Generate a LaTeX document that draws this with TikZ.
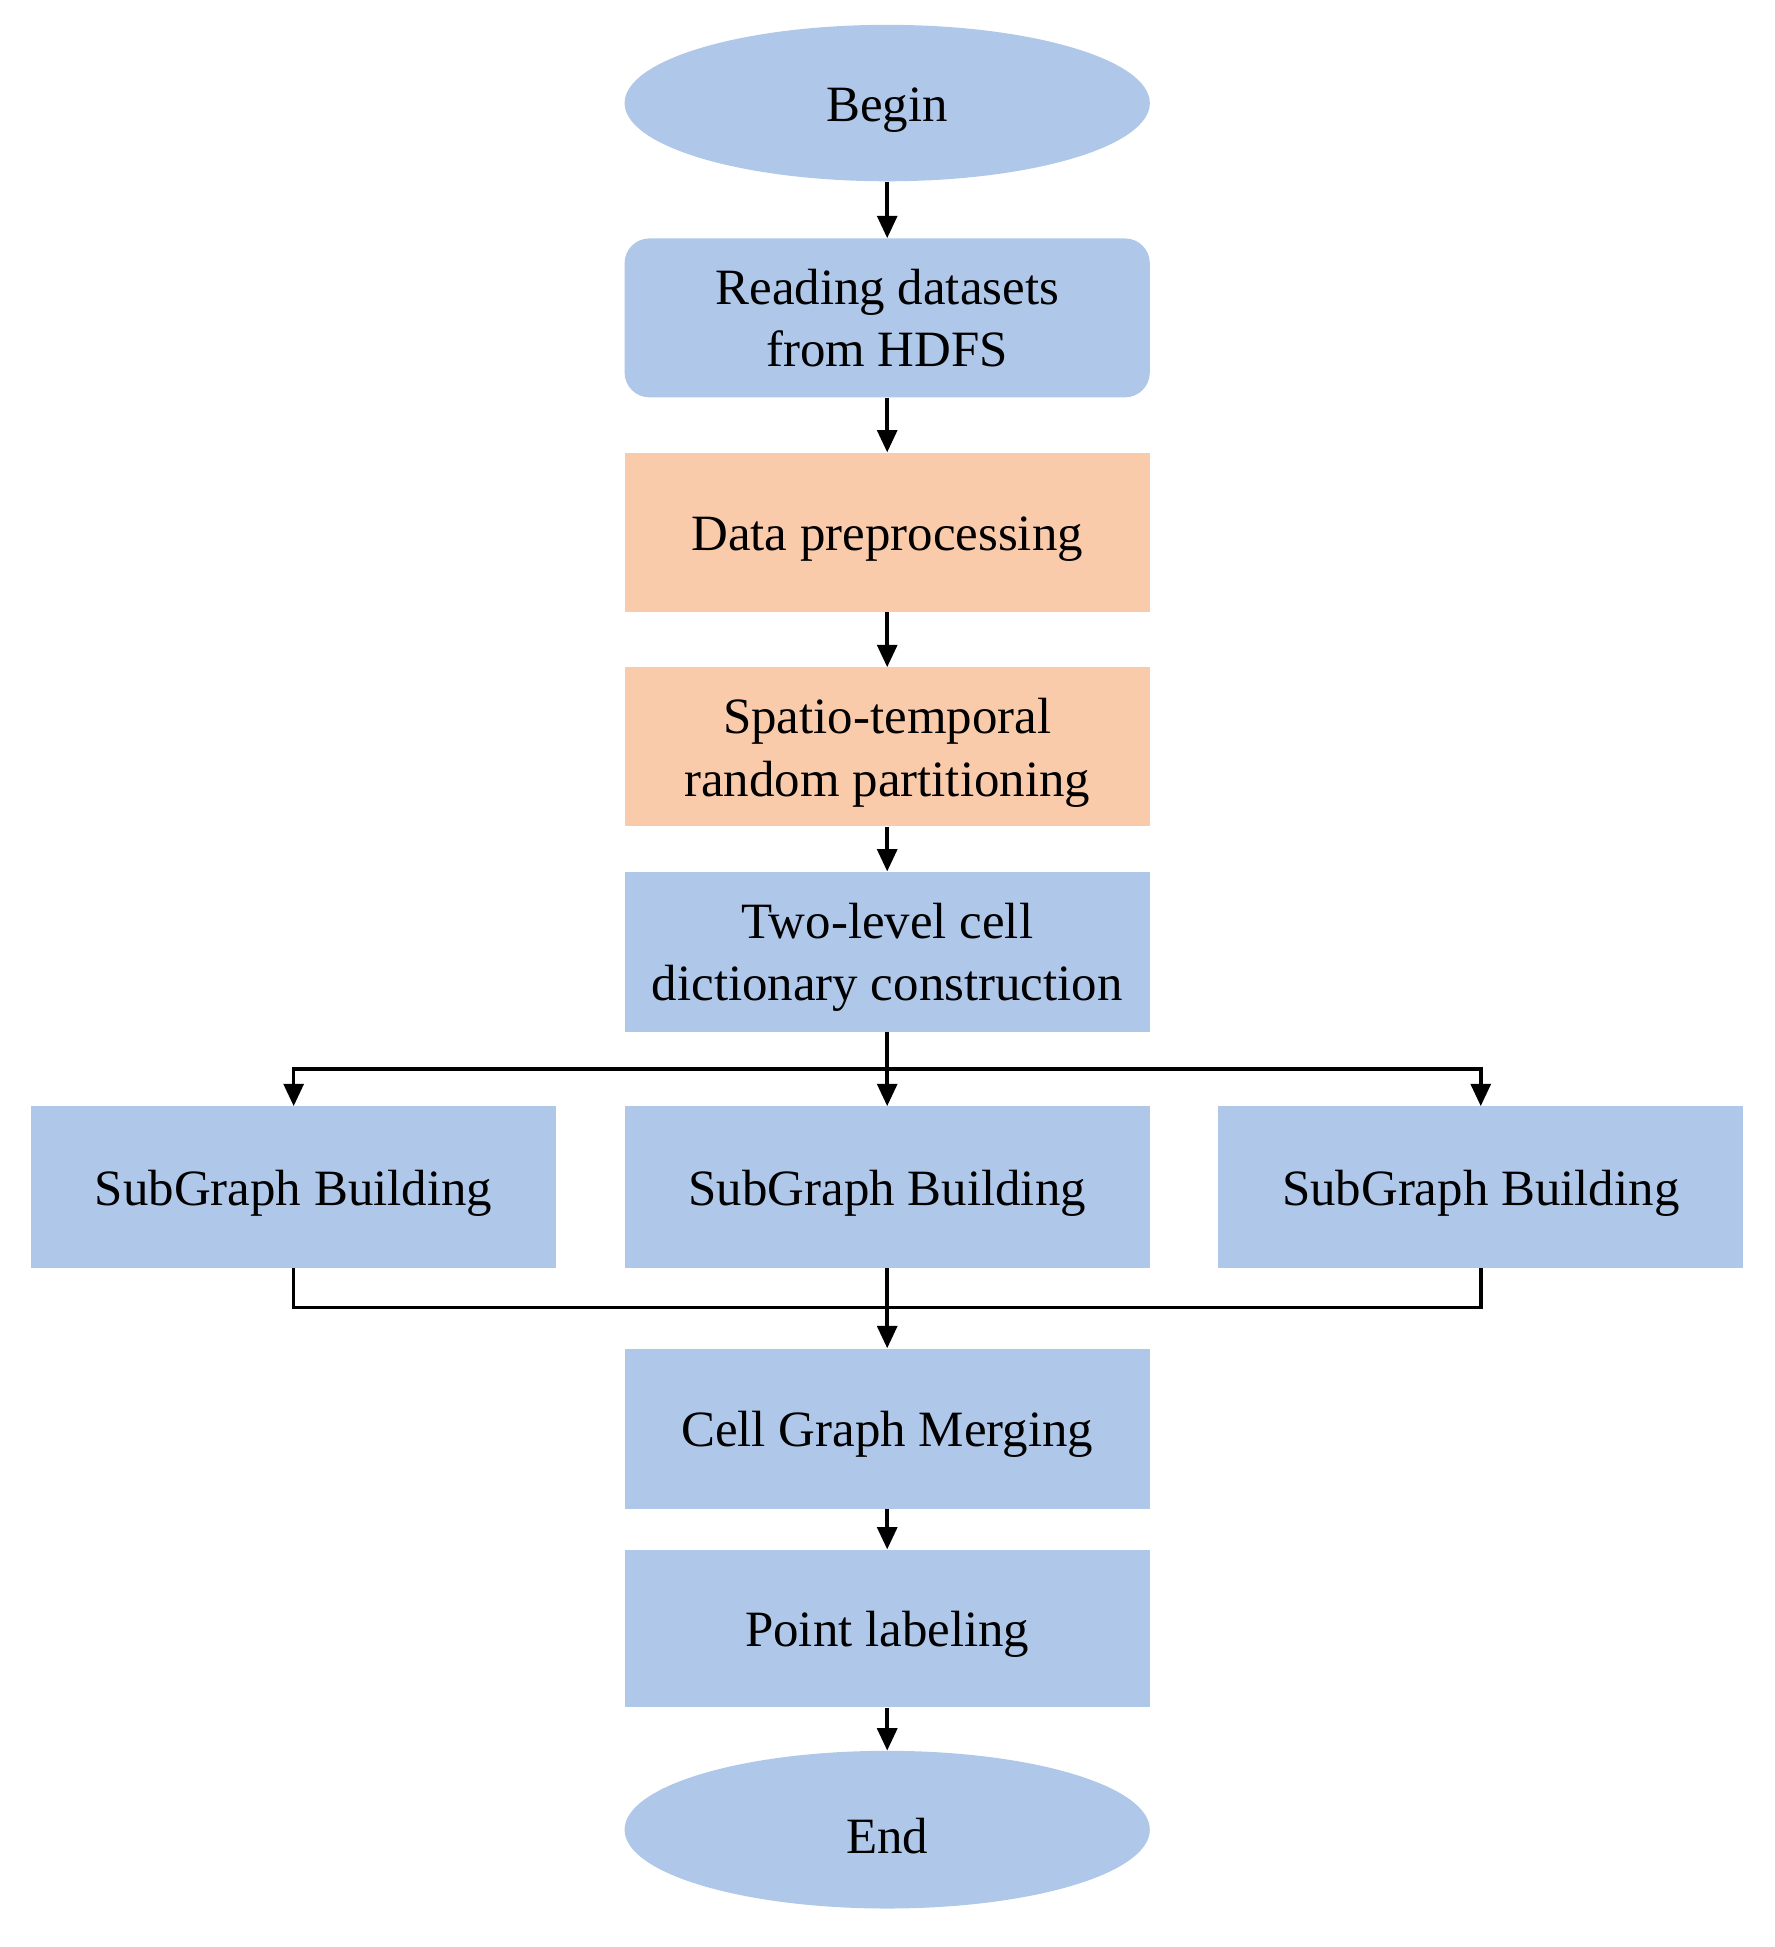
\documentclass[tikz,border=0pt]{standalone}
\usepackage{fontspec}
\setmainfont{Liberation Serif}
\usetikzlibrary{shapes.geometric,arrows.meta}
\definecolor{boxblue}{HTML}{AFC7E8}
\definecolor{boxorange}{HTML}{FACBAA}
\newcommand{\topgap}{\rule{0pt}{38pt}}
\begin{document}
\begin{tikzpicture}[x=1pt,y=-1pt,
  base/.style={inner sep=0pt,align=center,minimum width=423pt,minimum height=128pt,
    font=\fontsize{41}{50}\selectfont},
  bluebox/.style={base,rectangle,fill=boxblue},
  orangebox/.style={base,rectangle,fill=boxorange},
  roundbox/.style={base,rectangle,rounded corners=20pt,fill=boxblue},
  oval/.style={base,ellipse,fill=boxblue,minimum height=126pt},
  conn/.style={line width=2.9pt,-{Triangle[length=18pt,width=16pt]}},
  plain/.style={line width=2.9pt}]
\useasboundingbox (0,0) rectangle (1429,1568);
\node[oval] (begin) at (714.5,83) {\topgap Begin};
\node[roundbox] (read) at (714.5,256) {Reading datasets\\from HDFS};
\node[orangebox] (prep) at (714.5,428.5) {\topgap Data preprocessing};
\node[orangebox] (part) at (714.5,601.5) {\topgap Spatio-temporal\\random partitioning};
\node[bluebox,minimum height=129pt] (dict) at (714.5,766.5) {\topgap Two-level cell\\dictionary construction};
\node[bluebox,minimum height=130pt] (sgA) at (236.5,956) {\topgap SubGraph Building};
\node[bluebox,minimum height=130pt] (sgB) at (714.5,956) {\topgap SubGraph Building};
\node[bluebox,minimum height=130pt] (sgC) at (1192.5,956) {\topgap SubGraph Building};
\node[bluebox,minimum height=129pt] (merge) at (714.5,1150.5) {\topgap Cell Graph Merging};
\node[bluebox,minimum height=127pt] (label) at (714.5,1311.5) {\topgap Point labeling};
\node[oval,minimum height=127pt] (end) at (714.5,1473.5) {\topgap End};
\coordinate (fork) at (714.5,861);
\coordinate (join) at (714.5,1053);
\draw[conn] (begin) -- (read);
\draw[conn] (read) -- (prep);
\draw[conn] (prep) -- (part);
\draw[conn] (part) -- (dict);
\draw[conn] (dict) -- (sgB);
\draw[conn] (fork) -| (sgA.north);
\draw[conn] (fork) -| (sgC.north);
\draw[plain] (sgA.south) |- (join);
\draw[plain] (sgC.south) |- (join);
\draw[conn] (sgB) -- (merge);
\draw[conn] (merge) -- (label);
\draw[conn] (label) -- (end);
\end{tikzpicture}
\end{document}
